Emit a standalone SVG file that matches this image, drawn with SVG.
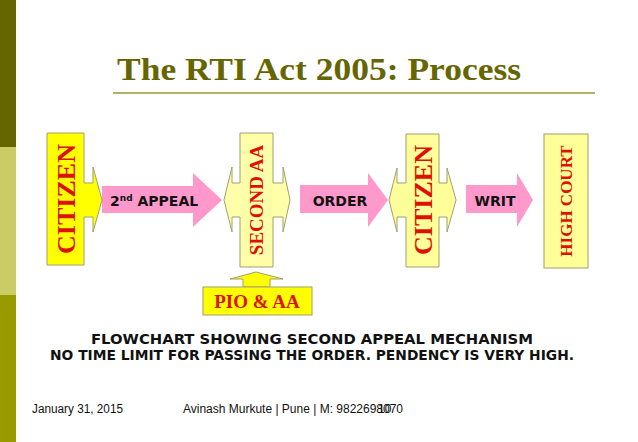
<svg xmlns="http://www.w3.org/2000/svg" width="638" height="442" viewBox="0 0 638 442">
<style>
.bx{stroke:#a0a070;stroke-width:1}
.pk{fill:#ff99cc}
.rt{font-family:"Liberation Serif",serif;font-weight:bold;fill:#dd1100}
.bt{font-family:"DejaVu Sans",sans-serif;font-weight:bold;fill:#111;font-size:14px}
.ft{font-family:"Liberation Sans",sans-serif;font-size:12px;fill:#111}
</style>
<rect width="638" height="442" fill="#fff"/>
<rect x="0" y="0" width="16" height="147" fill="#666600"/>
<rect x="0" y="147" width="16" height="148" fill="#cccc66"/>
<rect x="0" y="295" width="16" height="147" fill="#999900"/>
<text x="319" y="80" text-anchor="middle" font-family="Liberation Serif,serif" font-weight="bold" font-size="32" fill="#666600" textLength="404" lengthAdjust="spacingAndGlyphs">The RTI Act 2005: Process</text>
<line x1="113" y1="93" x2="595" y2="93" stroke="#999933" stroke-width="1.5"/>
<g id="connectors">
<path class="pk" d="M102,186H193V173L222,200L193,227V213H102Z"/>
<path class="pk" d="M300,185H368V173L388,200L368,227V213H300Z"/>
<path class="pk" d="M466,185H517V173L533,200L517,227V213H466Z"/>
</g>
<g id="citizen1">
<path class="bx" fill="#ffff00" d="M47,133H84V183H93V167L102,200L93,232V217H84V265H47Z"/>
<text class="rt" font-size="26" transform="translate(75,199) rotate(-90)" text-anchor="middle">CITIZEN</text>
</g>
<g id="second-aa">
<path class="bx" fill="#ffffaa" d="M240,133H273V183H283V167L290,200L283,232V217H273V267H240V217H232V232L224,200L232,167V183H240Z"/>
<text class="rt" font-size="19" transform="translate(263,200) rotate(-90)" text-anchor="middle">SECOND AA</text>
</g>
<g id="citizen2">
<path class="bx" fill="#ffff99" d="M406,134H439V183H447V168L456,200L447,232V217H439V267H406V217H397V232L389,200L397,168V183H406Z"/>
<text class="rt" font-size="26" transform="translate(432,200) rotate(-90)" text-anchor="middle">CITIZEN</text>
</g>
<g id="high-court">
<rect class="bx" fill="#ffff99" x="544" y="134" width="44" height="134"/>
<text class="rt" font-size="17" transform="translate(572,201) rotate(-90)" text-anchor="middle">HIGH COURT</text>
</g>
<g id="pio-aa">
<path class="bx" fill="#ffff00" d="M243,287V279H230L256,272L283,279H270V287Z"/>
<rect class="bx" fill="#ffff00" x="203" y="287" width="109" height="28"/>
<text class="rt" font-size="19" x="257" y="308" text-anchor="middle">PIO &amp; AA</text>
</g>
<text class="bt" x="110" y="206">2<tspan font-size="9" dy="-5">nd</tspan><tspan dy="5"> APPEAL</tspan></text>
<text class="bt" x="340" y="206" text-anchor="middle">ORDER</text>
<text class="bt" x="495" y="206" text-anchor="middle">WRIT</text>
<text class="bt" font-size="11.5" x="312" y="344" text-anchor="middle" textLength="442" lengthAdjust="spacingAndGlyphs">FLOWCHART SHOWING SECOND APPEAL MECHANISM</text>
<text class="bt" font-size="11.5" x="312" y="360" text-anchor="middle" textLength="524" lengthAdjust="spacingAndGlyphs">NO TIME LIMIT FOR PASSING THE ORDER. PENDENCY IS VERY HIGH.</text>
<text class="ft" x="32" y="413" textLength="91" lengthAdjust="spacingAndGlyphs">January 31, 2015</text>
<text class="ft" x="183" y="413" textLength="220" lengthAdjust="spacingAndGlyphs">Avinash Murkute | Pune | M: 9822698070</text>
<text class="ft" x="378" y="413">10</text>
</svg>
